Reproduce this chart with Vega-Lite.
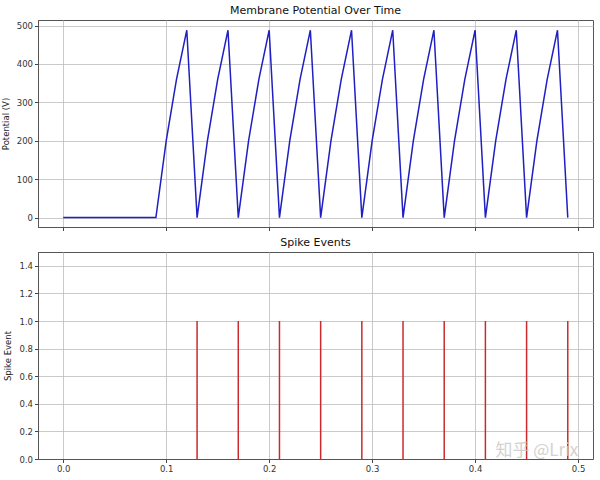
{
  "$schema": "https://vega.github.io/schema/vega-lite/v6.json",
  "padding": {"left": 0, "top": 4, "right": 7, "bottom": 5},
  "background": "white",
  "spacing": 4,
  "config": {
    "font": "DejaVu Sans",
    "view": {"stroke": "#555555", "strokeWidth": 1},
    "title": {"fontSize": 11, "fontWeight": "normal", "color": "#111111", "offset": 4, "font": "DejaVu Sans"},
    "axis": {
      "labelFont": "DejaVu Sans", "labelFontSize": 8.5, "labelColor": "#333333",
      "titleFont": "DejaVu Sans", "titleFontSize": 8.5, "titleFontWeight": "normal", "titleColor": "#222222",
      "tickColor": "#444444", "tickSize": 3.5, "domainColor": "#555555",
      "gridColor": "#bdbdbd", "gridWidth": 0.8, "labelPadding": 2,
      "labelOverlap": false, "labelFlush": false
    }
  },
  "datasets": {
    "potential": [
      {"t": 0.00, "v": 0}, {"t": 0.01, "v": 0}, {"t": 0.02, "v": 0}, {"t": 0.03, "v": 0}, {"t": 0.04, "v": 0},
      {"t": 0.05, "v": 0}, {"t": 0.06, "v": 0}, {"t": 0.07, "v": 0}, {"t": 0.08, "v": 0}, {"t": 0.09, "v": 0},
      {"t": 0.10, "v": 200}, {"t": 0.11, "v": 360}, {"t": 0.12, "v": 488}, {"t": 0.13, "v": 0},
      {"t": 0.14, "v": 200}, {"t": 0.15, "v": 360}, {"t": 0.16, "v": 488}, {"t": 0.17, "v": 0},
      {"t": 0.18, "v": 200}, {"t": 0.19, "v": 360}, {"t": 0.20, "v": 488}, {"t": 0.21, "v": 0},
      {"t": 0.22, "v": 200}, {"t": 0.23, "v": 360}, {"t": 0.24, "v": 488}, {"t": 0.25, "v": 0},
      {"t": 0.26, "v": 200}, {"t": 0.27, "v": 360}, {"t": 0.28, "v": 488}, {"t": 0.29, "v": 0},
      {"t": 0.30, "v": 200}, {"t": 0.31, "v": 360}, {"t": 0.32, "v": 488}, {"t": 0.33, "v": 0},
      {"t": 0.34, "v": 200}, {"t": 0.35, "v": 360}, {"t": 0.36, "v": 488}, {"t": 0.37, "v": 0},
      {"t": 0.38, "v": 200}, {"t": 0.39, "v": 360}, {"t": 0.40, "v": 488}, {"t": 0.41, "v": 0},
      {"t": 0.42, "v": 200}, {"t": 0.43, "v": 360}, {"t": 0.44, "v": 488}, {"t": 0.45, "v": 0},
      {"t": 0.46, "v": 200}, {"t": 0.47, "v": 360}, {"t": 0.48, "v": 488}, {"t": 0.49, "v": 0}
    ],
    "spikes": [
      {"t": 0.13, "s": 1}, {"t": 0.17, "s": 1}, {"t": 0.21, "s": 1}, {"t": 0.25, "s": 1}, {"t": 0.29, "s": 1},
      {"t": 0.33, "s": 1}, {"t": 0.37, "s": 1}, {"t": 0.41, "s": 1}, {"t": 0.45, "s": 1}, {"t": 0.49, "s": 1}
    ]
  },
  "vconcat": [
    {
      "title": "Membrane Potential Over Time",
      "width": 555,
      "height": 207,
      "data": {"name": "potential"},
      "mark": {"type": "line", "color": "#1f1fc4", "strokeWidth": 1.5},
      "encoding": {
        "x": {"field": "t", "type": "quantitative",
              "scale": {"domain": [-0.0245, 0.5145], "nice": false, "zero": false},
              "axis": {"values": [0, 0.1, 0.2, 0.3, 0.4, 0.5], "tickCount": 12, "labels": false, "title": null, "grid": true}},
        "y": {"field": "v", "type": "quantitative",
              "scale": {"domain": [-24.5, 514.5], "nice": false, "zero": false},
              "axis": {"values": [0, 100, 200, 300, 400, 500], "tickCount": 12, "title": "Potential (V)", "grid": true, "titlePadding": 6}}
      }
    },
    {
      "title": "Spike Events",
      "width": 555,
      "height": 207,
      "layer": [
        {
          "data": {"name": "spikes"},
          "mark": {"type": "rule", "color": "#cc2a2a", "strokeWidth": 1.5},
          "encoding": {
            "x": {"field": "t", "type": "quantitative",
                  "scale": {"domain": [-0.0245, 0.5145], "nice": false, "zero": false},
                  "axis": {"values": [0, 0.1, 0.2, 0.3, 0.4, 0.5], "tickCount": 12, "format": ".1f", "title": null, "grid": true}},
            "y": {"field": "s", "type": "quantitative",
                  "scale": {"domain": [0, 1.5], "nice": false, "zero": false},
                  "axis": {"values": [0, 0.2, 0.4, 0.6, 0.8, 1.0, 1.2, 1.4], "tickCount": 16, "format": ".1f", "title": "Spike Event", "grid": true, "titlePadding": 6}},
            "y2": {"datum": 0}
          }
        },
        {
          "data": {"values": [{"label": "知乎 @Lrix"}]},
          "mark": {"type": "text", "fontSize": 17, "color": "#c8c8c8", "opacity": 0.8, "font": "Noto Sans CJK SC", "align": "center"},
          "encoding": {
            "text": {"field": "label"},
            "x": {"datum": 0.46},
            "y": {"datum": 0.06}
          }
        }
      ]
    }
  ]
}
